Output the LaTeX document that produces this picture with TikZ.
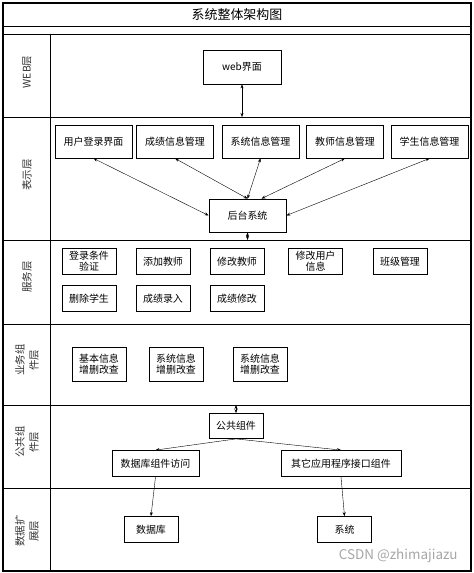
\documentclass[tikz,border=0pt]{standalone}
\usepackage{fontspec}
\setmainfont{Noto Sans CJK SC}
\usetikzlibrary{arrows.meta}

\begin{document}
\begin{tikzpicture}[x=1bp, y=-1bp,
	b/.style={draw, line width=0.8pt, inner sep=0pt, align=center,
		minimum width=54bp, minimum height=26bp, font=\fontsize{10}{11}\selectfont},
	l/.style={rotate=90, align=center, text=black!80, font=\fontsize{10.5}{14}\selectfont},
	>={Stealth[length=4pt, width=3pt]}
]
	\useasboundingbox (0,0) rectangle (474,573);

	% lanes
	\draw[line width=1.2pt] (3,3) rectangle (471,571);
	\draw[line width=0.8pt] (3,26) -- (471,26);
	\draw[line width=0.8pt] (3,34) -- (471,34);
	\draw[line width=0.8pt] (3,117) -- (471,117);
	\draw[line width=0.8pt] (3,240) -- (471,240);
	\draw[line width=0.8pt] (3,324) -- (471,324);
	\draw[line width=0.8pt] (3,405) -- (471,405);
	\draw[line width=0.8pt] (3,488) -- (471,488);
	\draw[line width=0.8pt] (50,34) -- (50,571);

	\node[font=\fontsize{13}{14}\selectfont] (T) at (237,15) {系统整体架构图};
	\node[l] (L1) at (27,72) {WEB层};
	\node[l] (L2) at (27,175) {表示层};
	\node[l] (L3) at (27,277) {服务层};
	\node[l] (L4) at (27,360) {业务组\\件层};
	\node[l] (L5) at (27,442) {公共组\\件层};
	\node[l] (L6) at (27,531) {数据扩\\展层};

	% web
	\node[b, minimum width=78bp, minimum height=34bp] (web) at (242,67) {web界面};
	\coordinate (w) at (242,117);

	% presentation
	\node[b, minimum width=77bp, minimum height=33bp] (u1) at (93.5,141.5) {用户登录界面};
	\node[b, minimum width=77bp, minimum height=33bp] (u2) at (175,141.5) {成绩信息管理};
	\node[b, minimum width=77bp, minimum height=33bp] (u3) at (260.5,141.5) {系统信息管理};
	\node[b, minimum width=77bp, minimum height=33bp] (u4) at (345,141.5) {教师信息管理};
	\node[b, minimum width=77bp, minimum height=33bp] (u5) at (429.5,141.5) {学生信息管理};
	\node[b, minimum width=77bp, minimum height=33bp] (back) at (247.5,215.5) {后台系统};
	\coordinate (s) at (247.5,240);

	% service
	\node[b] (s1) at (89,261.5) {登录条件\\验证};
	\node[b] (s2) at (163,261.5) {添加教师};
	\node[b] (s3) at (237,261.5) {修改教师};
	\node[b] (s4) at (315.5,261.5) {修改用户\\信息};
	\node[b] (s5) at (400,261.5) {班级管理};
	\node[b] (s6) at (89,298.5) {删除学生};
	\node[b] (s7) at (163,298.5) {成绩录入};
	\node[b] (s8) at (237,298.5) {成绩修改};

	% business components
	\node[b, minimum height=34bp] (c1) at (99,364.5) {基本信息\\增删改查};
	\node[b, minimum height=34bp] (c2) at (176,364.5) {系统信息\\增删改查};
	\node[b, minimum height=34bp] (c3) at (260,364.5) {系统信息\\增删改查};
	\coordinate (p) at (236,405);

	% common components
	\node[b, minimum height=25bp] (pub) at (236,426) {公共组件};
	\node[b, minimum width=87bp] (dba) at (155.5,463.5) {数据库组件访问};
	\node[b, minimum width=120bp] (api) at (341,463.5) {其它应用程序接口组件};

	% data
	\node[b] (db) at (151,529.5) {数据库};
	\node[b] (sys) at (344.5,529.5) {系统};

	\draw[<->] (web) -- (w);
	\draw[<->] (u1.south) -- (back.west);
	\draw[<->] (u2.south) -- (back.north);
	\draw[<->] (u3.south) -- (back.north);
	\draw[<->] (u4.south) -- ([xshift=14bp]back.north);
	\draw[<->] (u5.south) -- (back.east);
	\draw[<->] (back) -- (s);
	\draw[<->] (p) -- (pub);
	\draw[->] (pub.south) -- (dba.north);
	\draw[->] (pub.south) -- (api.north);
	\draw[->] (dba.south) -- (db.north);
	\draw[->] (api.south) -- (sys.north);

	\node[anchor=east, text=black!35, font=\fontsize{13.5}{14}\selectfont] (csdn) at (461,556) {CSDN @zhimajiazu};
\end{tikzpicture}
\end{document}
